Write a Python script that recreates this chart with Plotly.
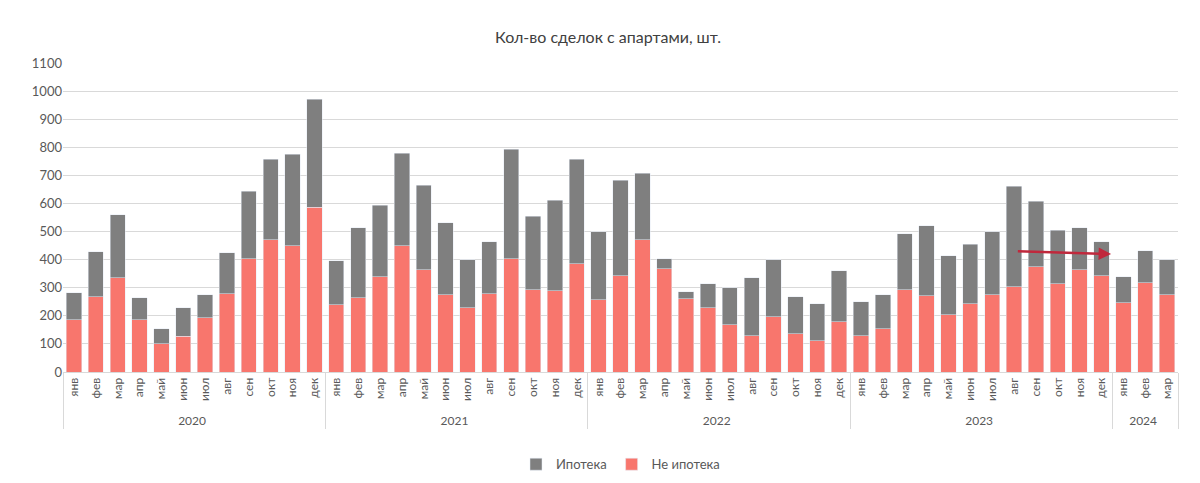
import plotly.graph_objects as go

months = ["янв","фев","мар","апр","май","июн","июл","авг","сен","окт","ноя","дек"]
years = ["2020"]*12 + ["2021"]*12 + ["2022"]*12 + ["2023"]*12 + ["2024"]*3
month_labels = months*4 + months[:3]

non_mortgage = [186,268,336,186,100,128,193,278,404,471,450,586,
                239,264,339,450,364,275,229,279,404,293,289,386,
                257,343,471,368,261,229,168,129,196,136,111,179,
                129,154,293,271,204,243,275,304,375,314,364,343,
                246,318,275]
total = [282,428,560,264,154,228,275,425,643,757,775,971,
         396,514,593,779,664,532,400,464,793,554,611,757,
         500,682,707,404,286,314,300,336,400,268,243,361,
         250,275,493,521,414,454,500,661,607,504,514,464,
         339,432,400]
mortgage = [t - n for t, n in zip(total, non_mortgage)]

x = [years, month_labels]
fig = go.Figure()
fig.add_trace(go.Bar(x=x, y=non_mortgage, name="Не ипотека", marker_color="#F8766D"))
fig.add_trace(go.Bar(x=x, y=mortgage, name="Ипотека", marker_color="#7F7F7F"))

fig.update_layout(
    barmode="stack", bargap=0.3, width=1200, height=483,
    paper_bgcolor="white", plot_bgcolor="white",
    font=dict(family="Lato, Open Sans, sans-serif", color="#595959", size=13),
    title=dict(text="Кол-во сделок с апартами, шт.", x=0.5, y=0.95, font=dict(size=16, color="#404040")),
    margin=dict(l=55, r=30, t=55, b=55),
    legend=dict(orientation="h", x=0.5, xanchor="center", y=-0.25, yanchor="top", font=dict(size=13)),
    showlegend=True,
)
fig.update_yaxes(range=[0, 1100], dtick=100, gridcolor="#D9D9D9", zeroline=False, tickfont=dict(size=13))
fig.update_xaxes(tickangle=-90, showdividers=True, dividercolor="#D9D9D9", showline=True, linecolor="#D9D9D9", tickfont=dict(size=12))
fig.add_annotation(xref="x domain", yref="y", x=0.94, y=420, ax=0.855, ay=430, axref="x domain", ayref="y",
                   showarrow=True, arrowhead=2, arrowcolor="#C0283C", arrowwidth=2.5, text="")
fig.write_html("out.html")
